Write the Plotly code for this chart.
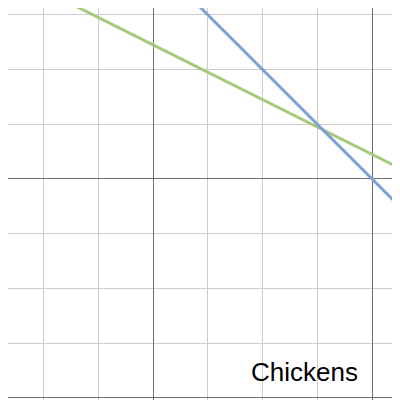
import plotly.graph_objects as go

x_vals = [-3, 5]
blue_y = [7, -1]        # y = 4 - x
green_y = [3.95, -0.05] # y = 2.45 - 0.5x

fig = go.Figure()
fig.add_trace(go.Scatter(x=x_vals, y=green_y, mode="lines",
                         line=dict(color="#a6c97a", width=3)))
fig.add_trace(go.Scatter(x=x_vals, y=blue_y, mode="lines",
                         line=dict(color="#7ba3d3", width=3)))

axis_common = dict(
    tick0=0, dtick=4, showgrid=True, gridcolor="#6e6e6e", gridwidth=1,
    minor=dict(dtick=1, showgrid=True, gridcolor="#cccccc", gridwidth=1),
    showticklabels=False, zeroline=False, ticks="", showline=False,
)
fig.update_xaxes(range=[-2.648, 4.657], **axis_common)
fig.update_yaxes(range=[-4.183, 3.123], **axis_common)

fig.add_annotation(text="Chickens", xref="paper", yref="paper", x=0.88, y=0.09,
                   xanchor="right", yanchor="middle", showarrow=False,
                   font=dict(family="Liberation Sans, Arial", size=26, color="#000"))

fig.update_layout(width=400, height=400, margin=dict(l=0, r=0, t=0, b=0),
                  showlegend=False, plot_bgcolor="white", paper_bgcolor="white")
fig.write_html("out.html")
